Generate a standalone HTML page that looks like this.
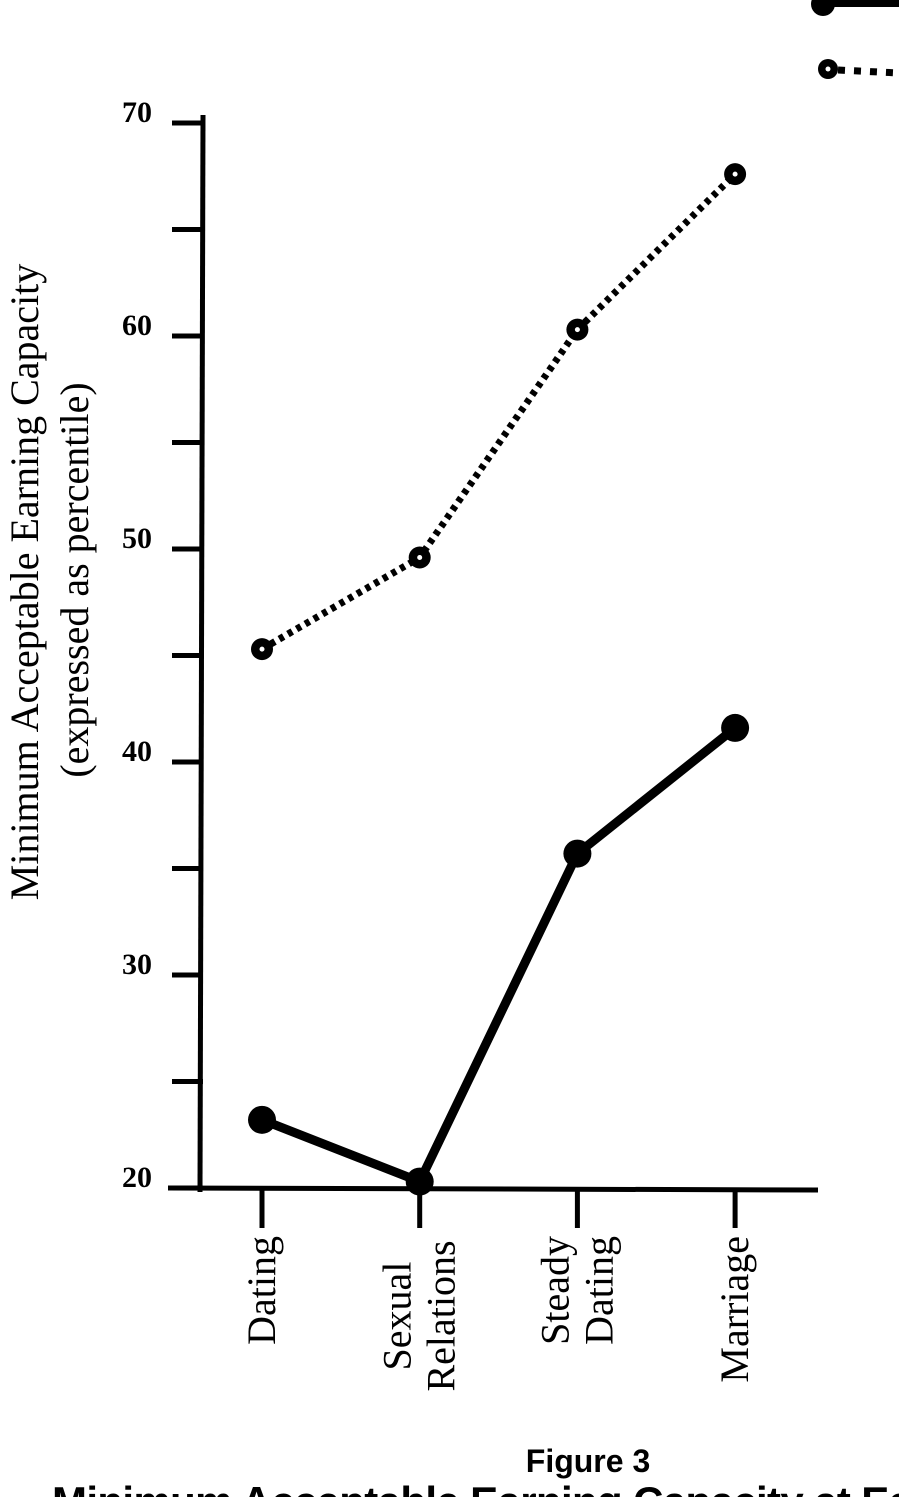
<!DOCTYPE html>
<html><head><meta charset="utf-8">
<style>
html,body{margin:0;padding:0;background:#fff;overflow:hidden}
svg{display:block}
text{font-family:"Liberation Serif",serif;fill:#000}
</style></head>
<body>
<svg id="chart" width="899" height="1497" viewBox="0 0 899 1497">
  <g id="legend">
    <g>
      <line x1="822" y1="3" x2="899" y2="3" stroke="#000" stroke-width="8"/>
      <circle cx="823" cy="4" r="12" fill="#000"/>
    </g>
    <g>
      <line x1="838" y1="70" x2="899" y2="73" stroke="#000" stroke-width="7" stroke-dasharray="7,9"/>
      <circle cx="828" cy="69" r="10" fill="#000"/>
      <circle cx="828" cy="69" r="2.5" fill="#fff"/>
    </g>
  </g>
  <g id="yaxis"></g>
  <g id="xaxis"></g>
  <g id="series"></g>
  <text transform="translate(38,582) rotate(-90)" text-anchor="middle" font-size="40">Minimum Acceptable Earning Capacity</text>
  <text transform="translate(88,580) rotate(-90)" text-anchor="middle" font-size="40">(expressed as percentile)</text>
  <text x="588" y="1472" text-anchor="middle" font-size="32" font-weight="bold" style="font-family:'Liberation Sans',sans-serif">Figure 3</text>
  <text x="52" y="1516" font-size="42" font-weight="bold" style="font-family:'Liberation Sans',sans-serif" textLength="860">Minimum Acceptable Earning Capacity at Ea</text>
</svg>
<script>
const categories = [["Dating"], ["Sexual", "Relations"], ["Steady", "Dating"], ["Marriage"]];
const solidValues = [23.2, 20.3, 35.7, 41.6];
const dottedValues = [45.3, 49.6, 60.3, 67.6];
const yTicks = [20, 25, 30, 35, 40, 45, 50, 55, 60, 65, 70];
const yTickLabels = ["20", "", "30", "", "40", "", "50", "", "60", "", "70"];

const NS = "http://www.w3.org/2000/svg";
const y0 = 1188, y1 = 123, vMin = 20, vMax = 70;
function yScale(v){ return y0 + (v - vMin) / (vMax - vMin) * (y1 - y0); }
const xLeft = 262, xStep = 157.7;
function xScale(i){ return xLeft + i * xStep; }
function mk(tag, attrs, parent){
  const el = document.createElementNS(NS, tag);
  for (const k in attrs) el.setAttribute(k, attrs[k]);
  parent.appendChild(el);
  return el;
}
const yaxis = document.getElementById('yaxis');
const xaxis = document.getElementById('xaxis');
const series = document.getElementById('series');

const yLine = mk('line', {x1: 203, y1: 115, x2: 200, y2: 1192, stroke: '#000', 'stroke-width': 5}, yaxis);


yTicks.forEach((t, i) => {
  const y = yScale(t);
  const tk = mk('line', {x1: 172, y1: y, x2: 203, y2: y, stroke: '#000', 'stroke-width': 5}, yaxis);
  
  
  if (yTickLabels[i]) {
    const tl = mk('text', {x: 152, y: y - 1, 'text-anchor': 'end', 'font-size': 30, 'font-weight': 'bold'}, yaxis);
    tl.textContent = yTickLabels[i];
    
    
  }
});

const xLine = mk('line', {x1: 168, y1: y0, x2: 818, y2: y0 + 2, stroke: '#000', 'stroke-width': 5}, xaxis);


categories.forEach((lines, i) => {
  const x = xScale(i);
  const tk = mk('line', {x1: x, y1: y0, x2: x, y2: 1228, stroke: '#000', 'stroke-width': 5}, xaxis);
  
  
  const n = lines.length;
  lines.forEach((ln, j) => {
    const bx = x + 13 + (j - (n - 1) / 2) * 44;
    let anchor = 'end', ay = 1236;
    if (n === 2 && i === 1) { anchor = 'middle'; ay = 1316; }
    const tl = mk('text', {transform: `translate(${bx},${ay}) rotate(-90)`, 'text-anchor': anchor, 'font-size': 40}, xaxis);
    tl.textContent = ln;
    
    
  });
});

const dPts = dottedValues.map((v, i) => `${xScale(i)},${yScale(v)}`).join(' ');
const dl = mk('polyline', {points: dPts, fill: 'none', stroke: '#000', 'stroke-width': 7, 'stroke-dasharray': '5,5'}, series);


dottedValues.forEach((v, i) => {
  const c = mk('circle', {cx: xScale(i), cy: yScale(v), r: 11, fill: '#000'}, series);
  
  
  mk('circle', {cx: xScale(i), cy: yScale(v), r: 2.5, fill: '#fff'}, series);
});

const sPts = solidValues.map((v, i) => `${xScale(i)},${yScale(v)}`).join(' ');
const sl = mk('polyline', {points: sPts, fill: 'none', stroke: '#000', 'stroke-width': 9, 'stroke-linejoin': 'round'}, series);


solidValues.forEach((v, i) => {
  const c = mk('circle', {cx: xScale(i), cy: yScale(v), r: 14, fill: '#000'}, series);
  
  
});
</script>
</body></html>
